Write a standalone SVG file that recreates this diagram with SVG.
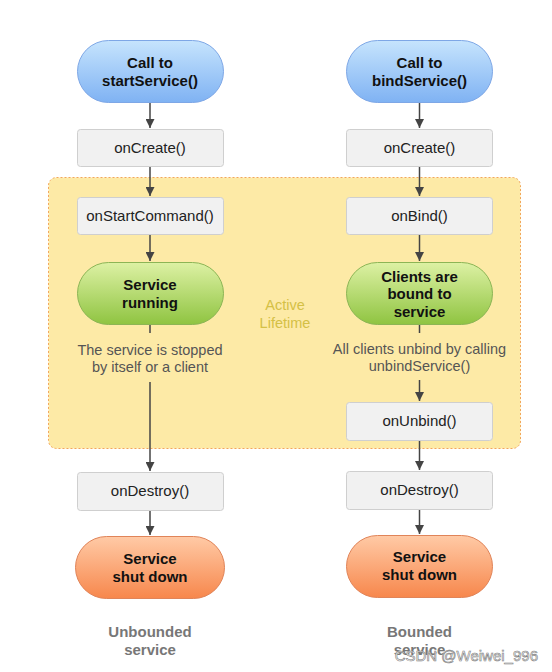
<svg xmlns="http://www.w3.org/2000/svg" width="552" height="672" viewBox="0 0 552 672">
<defs>
<linearGradient id="gBlue" x1="0" y1="0" x2="0" y2="1"><stop offset="0" stop-color="#c6e4fd"/><stop offset="1" stop-color="#7fb2f3"/></linearGradient>
<linearGradient id="gGreen" x1="0" y1="0" x2="0" y2="1"><stop offset="0" stop-color="#ddf1a4"/><stop offset="1" stop-color="#8fc441"/></linearGradient>
<linearGradient id="gOrange" x1="0" y1="0" x2="0" y2="1"><stop offset="0" stop-color="#ffcaa6"/><stop offset="1" stop-color="#f7874c"/></linearGradient>
<marker id="arr" viewBox="0 0 10 10" refX="10" refY="5" markerWidth="9" markerHeight="9" markerUnits="userSpaceOnUse" orient="auto"><path d="M0,0 L10,5 L0,10 z" fill="#444"/></marker>
</defs>
<style>
.box{fill:#f1f1f1;stroke:#cfcfcf;stroke-width:1}
.blue{fill:url(#gBlue);stroke:#7ea7e6;stroke-width:1}
.green{fill:url(#gGreen);stroke:#8cb555;stroke-width:1}
.orange{fill:url(#gOrange);stroke:#e08459;stroke-width:1}
.m{font-family:"Liberation Sans",Arial,sans-serif;font-size:15px;fill:#222;text-anchor:middle}
.b{font-family:"Liberation Sans",Arial,sans-serif;font-size:15px;font-weight:bold;fill:#111;text-anchor:middle}
.d{font-family:"Liberation Sans",Arial,sans-serif;font-size:14.5px;fill:#555;text-anchor:middle}
.lbl{font-family:"Liberation Sans",Arial,sans-serif;font-size:15px;font-weight:bold;fill:#777;text-anchor:middle}
.act{font-family:"Liberation Sans",Arial,sans-serif;font-size:14.5px;fill:#d4c045;text-anchor:middle}
.ln{stroke:#444;stroke-width:1.5;fill:none}
</style>
<g id="active-lifetime">
<rect x="48.5" y="177.5" width="472" height="271" rx="8" fill="#fdeaa6" stroke="#f2a65c" stroke-width="1" stroke-dasharray="2,2"/>
<text class="act" x="285" y="310">Active</text>
<text class="act" x="285" y="328">Lifetime</text>
</g>
<g id="connectors">
<line class="ln" x1="150" y1="103" x2="150" y2="128" marker-end="url(#arr)"/>
<line class="ln" x1="150" y1="167" x2="150" y2="196" marker-end="url(#arr)"/>
<line class="ln" x1="150" y1="235" x2="150" y2="261" marker-end="url(#arr)"/>
<line class="ln" x1="150" y1="325" x2="150" y2="333"/>
<line class="ln" x1="150" y1="382" x2="150" y2="471" marker-end="url(#arr)"/>
<line class="ln" x1="150" y1="511" x2="150" y2="535" marker-end="url(#arr)"/>
<line class="ln" x1="419.5" y1="103" x2="419.5" y2="128" marker-end="url(#arr)"/>
<line class="ln" x1="419.5" y1="167" x2="419.5" y2="196" marker-end="url(#arr)"/>
<line class="ln" x1="419.5" y1="235" x2="419.5" y2="261" marker-end="url(#arr)"/>
<line class="ln" x1="419.5" y1="325" x2="419.5" y2="333"/>
<line class="ln" x1="419.5" y1="380" x2="419.5" y2="401" marker-end="url(#arr)"/>
<line class="ln" x1="419.5" y1="441" x2="419.5" y2="470" marker-end="url(#arr)"/>
<line class="ln" x1="419.5" y1="510" x2="419.5" y2="534" marker-end="url(#arr)"/>
</g>
<g id="start-call">
<rect class="blue" x="77.5" y="40.5" width="146" height="62" rx="31"/>
<text class="b" x="150" y="68">Call to</text>
<text class="b" x="150" y="86">startService()</text>
</g>
<g id="start-oncreate">
<rect class="box" x="77.5" y="129.5" width="146" height="37" rx="3"/>
<text class="m" x="150" y="153">onCreate()</text>
</g>
<g id="start-onstartcommand">
<rect class="box" x="77.5" y="197.5" width="146" height="37" rx="3"/>
<text class="m" x="150" y="221">onStartCommand()</text>
</g>
<g id="service-running">
<rect class="green" x="77.5" y="262.5" width="146" height="62" rx="31"/>
<text class="b" x="150" y="290">Service</text>
<text class="b" x="150" y="308">running</text>
</g>
<g id="start-stop-note">
<text class="d" x="150" y="355">The service is stopped</text>
<text class="d" x="150" y="372">by itself or a client</text>
</g>
<g id="start-ondestroy">
<rect class="box" x="77.5" y="472.5" width="146" height="38" rx="3"/>
<text class="m" x="150" y="496">onDestroy()</text>
</g>
<g id="start-shutdown">
<rect class="orange" x="75.5" y="536.5" width="149" height="62" rx="31"/>
<text class="b" x="150" y="564">Service</text>
<text class="b" x="150" y="582">shut down</text>
</g>
<g id="start-label">
<text class="lbl" x="150" y="637">Unbounded</text>
<text class="lbl" x="150" y="655">service</text>
</g>
<g id="bind-call">
<rect class="blue" x="346.5" y="40.5" width="146" height="62" rx="31"/>
<text class="b" x="419.5" y="68">Call to</text>
<text class="b" x="419.5" y="86">bindService()</text>
</g>
<g id="bind-oncreate">
<rect class="box" x="346.5" y="129.5" width="146" height="37" rx="3"/>
<text class="m" x="419.5" y="153">onCreate()</text>
</g>
<g id="bind-onbind">
<rect class="box" x="346.5" y="197.5" width="146" height="37" rx="3"/>
<text class="m" x="419.5" y="221">onBind()</text>
</g>
<g id="clients-bound">
<rect class="green" x="346.5" y="262.5" width="146" height="62" rx="31"/>
<text class="b" x="419.5" y="282">Clients are</text>
<text class="b" x="419.5" y="299">bound to</text>
<text class="b" x="419.5" y="317">service</text>
</g>
<g id="bind-unbind-note">
<text class="d" x="419.5" y="354">All clients unbind by calling</text>
<text class="d" x="419.5" y="371">unbindService()</text>
</g>
<g id="bind-onunbind">
<rect class="box" x="346.5" y="402.5" width="146" height="38" rx="3"/>
<text class="m" x="419.5" y="426">onUnbind()</text>
</g>
<g id="bind-ondestroy">
<rect class="box" x="346.5" y="471.5" width="146" height="38" rx="3"/>
<text class="m" x="419.5" y="495">onDestroy()</text>
</g>
<g id="bind-shutdown">
<rect class="orange" x="346.5" y="535.5" width="146" height="62" rx="31"/>
<text class="b" x="419.5" y="562">Service</text>
<text class="b" x="419.5" y="580">shut down</text>
</g>
<g id="bind-label">
<text class="lbl" x="419.5" y="637">Bounded</text>
<text class="lbl" x="419.5" y="655">service</text>
</g>
<text x="538" y="661" font-family="Liberation Sans,Arial,sans-serif" font-size="15" text-anchor="end" fill="#ffffff" stroke="#7a7a7a" stroke-width="0.6">CSDN @Weiwei_996</text>
</svg>
